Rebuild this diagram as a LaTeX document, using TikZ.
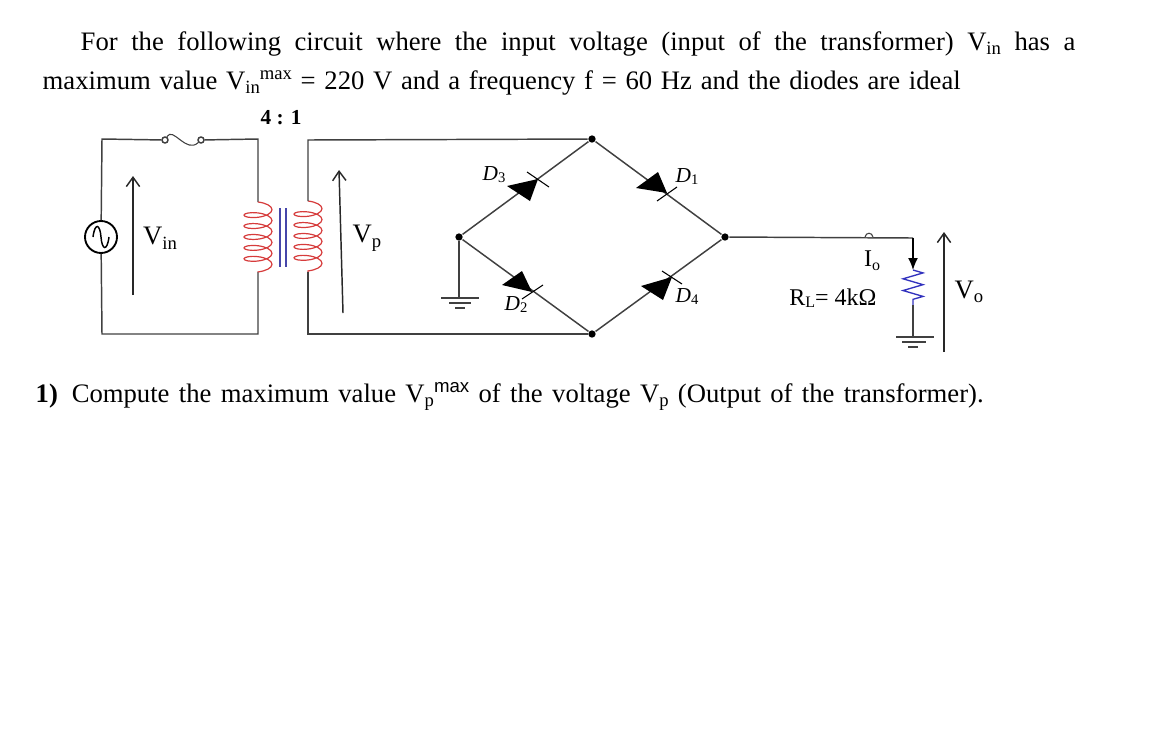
\documentclass[tikz,border=0pt]{standalone}
\usepackage{fontspec}
\setmainfont{Liberation Serif}
\newfontfamily\arialfont{Liberation Sans}
\usetikzlibrary{decorations.pathmorphing,arrows.meta}

\newcommand{\lowtxt}[1]{\raisebox{-3.5pt}{\fontsize{14}{14}\selectfont #1}}
\newcommand{\hightxt}[1]{\raisebox{7pt}{\fontsize{14}{14}\selectfont #1}}
\newcommand{\dlabel}[2]{\fontsize{16}{16}\selectfont\textit{#1}\raisebox{-1.5pt}{\fontsize{11}{11}\selectfont #2}}

\tikzset{every picture/.style={line width=1.1pt}}
\tikzset{
  wire/.style={color={rgb, 255:red, 64; green, 64; blue, 64 }},
  volt/.style={-{Straight Barb[length=7pt,width=10pt]},color={rgb, 255:red, 40; green, 40; blue, 40 }},
  junction/.style={circle,fill=black,inner sep=0pt,minimum size=5.5pt},
  terminal/.style={circle,draw={rgb, 255:red, 64; green, 64; blue, 64 },fill=white,inner sep=0pt,minimum size=4.5pt},
  winding/.style={color={rgb, 255:red, 214; green, 60; blue, 60 },line width=0.9pt,decorate,
    decoration={coil,aspect=0.35,amplitude=10.5pt,segment length=8.2pt}},
  core/.style={color={rgb, 255:red, 70; green, 70; blue, 170 },line width=1.3pt},
  textline/.style={anchor=base west,inner sep=0pt,font=\fontsize{20}{24}\selectfont},
  label/.style={inner sep=0pt,font=\fontsize{20}{24}\selectfont},
  diodebar/.style={line width=0.8pt}
}

\begin{document}
\begin{tikzpicture}[x=0.75pt,y=0.75pt,yscale=-1,xscale=1]
\useasboundingbox (0,0) rectangle (1170,747);

%Text lines
\node [textline] (lineone) at (80,50) {\makebox[746pt][s]{For the following circuit where the input voltage (input of the transformer) V\lowtxt{in} has a}};
\node [textline] (linetwo) at (42,89) {\makebox[688.5pt][s]{maximum value V\lowtxt{in}\hightxt{max} = 220 V and a frequency f = 60 Hz and the diodes are ideal}};
\node [textline] (linethree) at (35,402) {\makebox[711pt][s]{\textbf{1)}\, Compute the maximum value V\lowtxt{p}\hightxt{\arialfont max} of the voltage V\lowtxt{p} (Output of the transformer).}};
\node [label,font=\fontsize{16}{18}\selectfont\bfseries] (ratio) at (281,118) {4 : 1};

%Primary side
\coordinate (ptl) at (102,139);
\coordinate (ptr) at (258,139);
\coordinate (pct) at (258,202);
\coordinate (pcb) at (258,272);
\coordinate (pbr) at (258,334);
\coordinate (pbl) at (102,334);
\node [circle,draw=black,line width=1.4pt,fill=white,inner sep=0pt,minimum size=24pt] (source) at (101,237) {};
\draw [line width=1.1pt] (93,237) .. controls (95,222) and (100,224) .. (101,237) .. controls (102,250) and (107,252) .. (109,237) ;
\node [terminal] (fusea) at (165,140) {};
\node [terminal] (fuseb) at (201,140) {};
\draw [wire] (source) -- (ptl) -- (fusea) ;
\draw [wire,line width=0.8pt] (fusea) .. controls (173,126) and (186,154) .. (fuseb) ;
\draw [wire] (fuseb) -- (ptr) -- (pct) ;
\draw [wire] (pcb) -- (pbr) -- (pbl) -- (source) ;
\draw [winding] (pct) -- (pcb) ;

%Core
\coordinate (coreat) at (280,208);
\coordinate (coreab) at (280,267);
\coordinate (corebt) at (286,208);
\coordinate (corebb) at (286,267);
\draw [core] (coreat) -- (coreab) ;
\draw [core] (corebt) -- (corebb) ;

%Secondary side
\coordinate (stl) at (308,140);
\coordinate (sct) at (308,201);
\coordinate (scb) at (308,272);
\coordinate (sbl) at (308,334);
\draw [winding] (sct) -- (scb) ;

%Bridge
\node [junction] (top) at (592,139) {};
\node [junction] (left) at (459,237) {};
\node [junction] (right) at (725,237) {};
\node [junction] (bottom) at (592,334) {};
\draw [wire] (sct) -- (stl) -- (top) ;
\draw [wire] (scb) -- (sbl) -- (bottom) ;
\draw [wire] (left) -- (top) -- (right) -- (bottom) -- (left) ;
%Diodes
\fill (538,179) -- (507,186) -- (530,201) -- cycle ;
\draw [diodebar] (527,172) -- (549,187) ;
\fill (667,193) -- (636,188) -- (658,172) -- cycle ;
\draw [diodebar] (657,201) -- (677,187) ;
\fill (532,292) -- (502,285) -- (522,271) -- cycle ;
\draw [diodebar] (522,299) -- (543,285) ;
\fill (672,277) -- (641,286) -- (663,300) -- cycle ;
\draw [diodebar] (662,271) -- (682,284) ;
\node [inner sep=0pt] (dthree) at (494,175) {\dlabel{D}{3}};
\node [inner sep=0pt] (done) at (687,177) {\dlabel{D}{1}};
\node [inner sep=0pt] (dtwo) at (516,305) {\dlabel{D}{2}};
\node [inner sep=0pt] (dfour) at (687,297) {\dlabel{D}{4}};

%Left ground
\coordinate (gndl) at (459,298);
\draw [wire] (left) -- (gndl) ;
\draw [wire] (441,298) -- (479,298) ;
\draw [wire] (449,303) -- (471,303) ;
\draw [wire,line width=1.5pt] (455,308) -- (465,308) ;

%Load
\coordinate (rturn) at (913,238);
\coordinate (rtop) at (913,270);
\coordinate (rbot) at (913,305);
\coordinate (gndr) at (913,337);
\draw [wire] (right) -- (rturn) ;
\draw [wire,line width=0.8pt,fill=white] (865,237) .. controls (866,232) and (872,232) .. (873,237) ;
\draw [-{Latex[length=9pt,width=7.5pt]},line width=1.2pt] (rturn) -- (rtop) ;
\draw [color={rgb, 255:red, 50; green, 50; blue, 190 },line width=1pt,decorate,decoration={zigzag,amplitude=7.5pt,segment length=8.8pt}] (rtop) -- (rbot) ;
\draw [wire] (rbot) -- (gndr) ;
\draw [wire] (896,337) -- (934,337) ;
\draw [wire] (902,342) -- (926,342) ;
\draw [wire] (908,347) -- (918,347) ;

%Voltage arrows
\coordinate (vinb) at (133,295);
\coordinate (vint) at (133,176);
\coordinate (vpb) at (343,313);
\coordinate (vpt) at (339,170);
\coordinate (vob) at (944,352);
\coordinate (vot) at (944,232);
\draw [volt] (vinb) -- (vint) ;
\draw [volt] (vpb) -- (vpt) ;
\draw [volt] (vob) -- (vot) ;
\node [label] (vin) at (160,238) {V\lowtxt{in}};
\node [label] (vp) at (367,238) {V\lowtxt{p}};
\node [label] (vo) at (969,292) {V\lowtxt{o}};
\node [label,font=\fontsize{18}{20}\selectfont] (io) at (872,261) {I\raisebox{-3pt}{\fontsize{12}{12}\selectfont o}};
\node [label,font=\fontsize{18}{20}\selectfont] (rl) at (833,298) {R\raisebox{-2pt}{\fontsize{12}{12}\selectfont L}= 4k\symbol{"03A9}};

\end{tikzpicture}
\end{document}
